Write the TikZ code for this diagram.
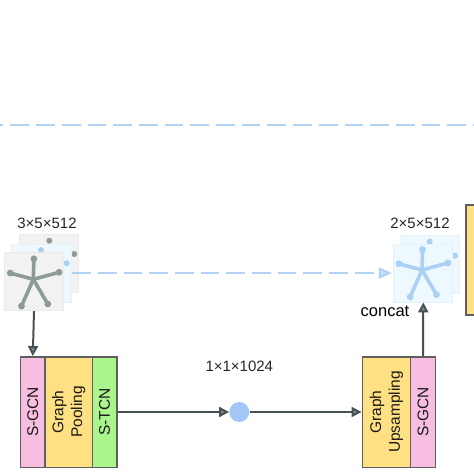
\documentclass[tikz,border=0pt]{standalone}
\usepackage{fontspec}
\setmainfont{Liberation Sans}
\usetikzlibrary{arrows.meta,positioning}
\definecolor{darkline}{RGB}{70,80,85}
\definecolor{tipfill}{RGB}{125,138,140}
\definecolor{cellline}{RGB}{95,95,95}
\definecolor{cellpink}{RGB}{247,190,225}
\definecolor{cellyellow}{RGB}{255,224,130}
\definecolor{cellgreen}{RGB}{170,245,140}
\definecolor{skyline}{RGB}{178,210,243}
\definecolor{starblue}{RGB}{170,208,245}
\definecolor{stargray}{RGB}{140,155,150}
\definecolor{cardgray}{RGB}{242,242,242}
\definecolor{cardblue}{RGB}{237,249,255}
\tikzset{
  cell/.style={rectangle, draw=cellline, line width=1.5pt, rotate=90, align=center,
               font=\fontsize{15.5}{18.7}\selectfont, text=black!90,
               minimum width=110.5pt, inner sep=0pt},
  cardgraygraph/.style={rectangle, draw=black!8, fill=cardgray, line width=0.8pt,
                   minimum width=59pt, minimum height=58pt, inner sep=0pt},
  cardbluegraph/.style={cardgraygraph, draw=starblue!30, fill=cardblue},
  lbl/.style={font=\fontsize{15}{18}\selectfont, text=black!85, inner sep=0pt},
  arrdark/.style={-{Triangle[length=10pt,width=10pt,fill=tipfill]}, line width=2pt, color=darkline},
  arrsky/.style={-{Triangle[length=13pt,width=11pt,fill=starblue!70]}, line width=2pt,
                 color=skyline, dash pattern=on 18.7pt off 7pt},
}
% star glyph: centre, colour
\newcommand{\graphstar}[3]{
  \foreach \dx/\dy in {0.6/-20.5, -23/-6.2, 25.8/-7, -11.8/26.8, 14.5/24.7} {
    \draw[#3, line width=3.6pt] (#1,#2) -- ++(\dx,\dy);
    \fill[#3] (#1+\dx,#2+\dy) circle (3.4pt);
  }
}
\begin{document}
\begin{tikzpicture}[x=1pt,y=-1pt]
  \clip (0,0) rectangle (474,474);
  \fill[white] (0,0) rectangle (474,474);
  % top skip line
  \coordinate (skipl) at (-15.3,125.4);
  \coordinate (skipr) at (480,125.4);
  \draw[line width=2pt, skyline, dash pattern=on 18.7pt off 7pt] (skipl) -- (skipr);
  % encoder cards
  \node[cardgraygraph] (cardc) at (49.3,263.7) {};
  \fill[stargray] (49.3,240.7) circle (3pt);
  \fill[stargray] (74.3,254) circle (3pt);
  \node[cardbluegraph, minimum width=60.4pt] (cardb) at (41.5,273) {};
  \fill[starblue] (41,250) circle (3pt);
  \fill[starblue] (66.7,263.3) circle (3pt);
  \node[cardgraygraph] (carda) at (34,281.7) {};
  \graphstar{33.3}{279.3}{stargray}
  \node[lbl] (shapea) at (47,223) {3×5×512};
  % decoder cards
  \node[cardbluegraph] (cardd) at (430.3,264.8) {};
  \fill[starblue] (429.7,241.7) circle (3pt);
  \fill[starblue] (455,255.7) circle (3pt);
  \node[cardbluegraph] (carde) at (423.3,273) {};
  \graphstar{422}{270}{starblue}
  \node[lbl] (shapeb) at (420,223.3) {2×5×512};
  \node[lbl, font=\fontsize{16.5}{18}\selectfont, text=black] (concat) at (385,311) {concat};
  % clipped block on the right
  \node[rectangle, draw=cellline, line width=1.5pt, fill=cellyellow, inner sep=0pt,
        minimum width=40pt, minimum height=110pt] (nextblock) at (486,260) {};
  % encoder block
  \node[cell, fill=cellpink, minimum height=24.4pt] (sgcna) at (32.8,412) {S-GCN};
  \node[cell, fill=cellyellow, minimum height=47.4pt] (pool) at (68.7,412) {Graph\\Pooling};
  \node[cell, fill=cellgreen, minimum height=24.4pt] (stcn) at (104.6,412) {S-TCN};
  % decoder block
  \node[cell, fill=cellyellow, minimum height=48.4pt] (upsample) at (386.5,412) {Graph\\Upsampling};
  \node[cell, fill=cellpink, minimum height=24.6pt] (sgcnb) at (423,412) {S-GCN};
  % bottleneck
  \node[circle, fill=starblue!95!blue, minimum size=20pt, inner sep=0pt] (neck) at (239.3,412) {};
  \node[lbl] (shapec) at (239.3,366.7) {1×1×1024};
  % connectors
  \draw[arrdark] (carda.south) -- (sgcna.east);
  \draw[arrdark] (stcn.south) -- (neck.west);
  \draw[arrdark] (neck.east) -- (upsample.north);
  \draw[arrdark] (sgcnb.east) -- (carde.south);
  \draw[arrsky, shorten >=1.5pt] (cardb.east) -- (carde.west);
\end{tikzpicture}
\end{document}
